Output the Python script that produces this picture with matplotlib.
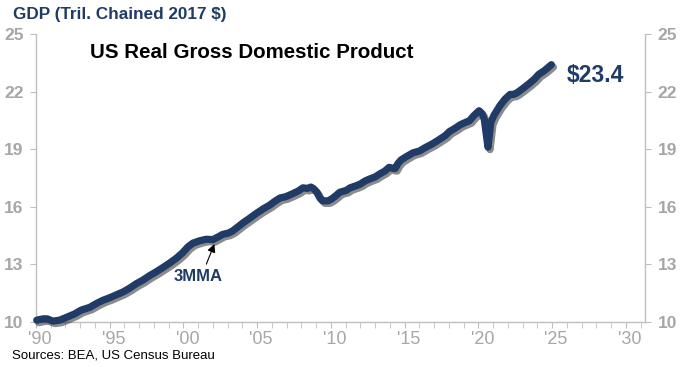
import matplotlib
matplotlib.use("Agg")
import matplotlib.pyplot as plt
import matplotlib.patheffects as pe
from matplotlib.transforms import ScaledTranslation
from matplotlib.ticker import MultipleLocator
from matplotlib import font_manager

plt.rcParams['font.family'] = ['Liberation Sans', 'DejaVu Sans']
installed = {f.name for f in font_manager.fontManager.ttflist}
narrow = 'Liberation Sans Narrow' if 'Liberation Sans Narrow' in installed else 'Liberation Sans'

# real GDP, trillions of chained 2017 dollars (3-month moving average)
years = [1990.05, 1990.5, 1990.75, 1991.15, 1991.6, 1992.05, 1992.6, 1993.05, 1993.65, 1994.1,
         1994.55, 1995.0, 1995.45, 1995.9, 1996.35, 1996.8, 1997.25, 1997.7, 1998.15, 1998.6,
         1999.05, 1999.5, 1999.95, 2000.3, 2000.65, 2001.1, 2001.55, 2002.0, 2002.35, 2002.65,
         2003.05, 2003.35, 2003.7, 2004.05, 2004.5, 2004.95, 2005.4, 2005.85, 2006.2, 2006.55,
         2006.95, 2007.45, 2007.8, 2008.1, 2008.4, 2008.65, 2008.85, 2009.05, 2009.25, 2009.45,
         2009.8, 2010.05, 2010.35, 2010.6, 2011.05, 2011.3, 2011.75, 2012.0, 2012.3, 2012.65,
         2013.0, 2013.3, 2013.65, 2013.95, 2014.2, 2014.35, 2014.55, 2014.75, 2015.1, 2015.55,
         2016.0, 2016.45, 2016.9, 2017.35, 2017.75, 2018.05, 2018.45, 2018.75, 2019.0, 2019.4,
         2019.7, 2020.05, 2020.25, 2020.4, 2020.65, 2020.85, 2021.05, 2021.45, 2021.8, 2022.15,
         2022.4, 2022.65, 2023.0, 2023.45, 2023.8, 2024.1, 2024.4, 2024.65, 2024.95]
gdp = [10.08, 10.15, 10.15, 10.03, 10.08, 10.22, 10.40, 10.60, 10.75, 10.95,
       11.12, 11.25, 11.40, 11.55, 11.75, 11.98, 12.17, 12.40, 12.60, 12.82,
       13.05, 13.30, 13.60, 13.90, 14.10, 14.22, 14.30, 14.28, 14.42, 14.55,
       14.62, 14.74, 14.95, 15.16, 15.40, 15.65, 15.88, 16.08, 16.28, 16.45,
       16.52, 16.69, 16.82, 16.98, 16.95, 17.02, 16.92, 16.75, 16.45, 16.30,
       16.30, 16.40, 16.58, 16.75, 16.85, 16.98, 17.10, 17.18, 17.33, 17.45,
       17.55, 17.70, 17.85, 18.05, 18.00, 17.98, 18.25, 18.43, 18.60, 18.80,
       18.90, 19.10, 19.28, 19.50, 19.70, 19.92, 20.10, 20.26, 20.35, 20.48,
       20.75, 21.00, 20.85, 20.55, 19.10, 20.40, 20.75, 21.25, 21.60, 21.85,
       21.85, 21.95, 22.15, 22.42, 22.65, 22.90, 23.05, 23.20, 23.40]

y_ticks = [10, 13, 16, 19, 22, 25]
x_ticks = [1990, 1995, 2000, 2005, 2010, 2015, 2020, 2025, 2030]
x_labels = ["'90", "'95", "'00", "'05", "'10", "'15", "'20", "'25", "'30"]

navy = '#1F3B66'
grey = '#A6A6A6'
spine_grey = '#BFBFBF'

fig = plt.figure(figsize=(6.81, 3.67), dpi=100)
ax = fig.add_axes([36/681, 1-321.7/367, (645-36)/681, (321.7-34)/367])

ax.plot(years, gdp, color=navy, lw=5.2, solid_capstyle='round', solid_joinstyle='round',
        clip_on=False, zorder=5,
        path_effects=[pe.SimpleLineShadow(offset=(1.5, -1.8), shadow_color='black', alpha=0.45),
                      pe.Normal()])

ax.set_xlim(1990, 2031.3)
ax.set_ylim(10, 25)
ax.set_yticks(y_ticks)
ax.set_xticks(x_ticks)
ax.set_xticklabels(x_labels, family=[narrow, 'DejaVu Sans'])
ax.xaxis.set_minor_locator(MultipleLocator(1))

ax.spines['top'].set_visible(False)
for s in ['left', 'right', 'bottom']:
    ax.spines[s].set_color(spine_grey)
    ax.spines[s].set_linewidth(1)

ax.tick_params(axis='y', which='both', direction='out', length=4, color=spine_grey,
               labelcolor=grey, labelsize=12.5, left=True, right=True,
               labelleft=True, labelright=True, pad=5)
ax.tick_params(axis='x', which='both', direction='out', length=4, color=spine_grey,
               labelcolor=grey, labelsize=13, pad=3)
for lab in ax.get_yticklabels():
    lab.set_fontweight('bold')
for lab in ax.get_xticklabels():
    lab.set_transform(lab.get_transform() + ScaledTranslation(4/100, 0, fig.dpi_scale_trans))

# annotations
ax.text(2001.0, 12.35, '3MMA', color=navy, fontsize=12, fontweight='bold',
        ha='center', va='center')
ax.annotate('', xy=(2002.1, 14.05), xytext=(2001.55, 13.0),
            arrowprops=dict(arrowstyle='-|>', color='black', lw=0.8,
                            mutation_scale=12, shrinkA=0, shrinkB=0), zorder=6)

fig.text(13/681, 1-14/367, 'GDP (Tril. Chained 2017 $)', color=navy, fontsize=12.3,
         fontweight='bold', va='center', ha='left')
fig.text(90/681, 1-53/367, 'US Real Gross Domestic Product', color='black', fontsize=14.8,
         fontweight='bold', va='center', ha='left')
fig.text(567/681, 1-76/367, '$23.4', color=navy, fontsize=16.5, fontweight='bold',
         va='center', ha='left')
fig.text(12/681, 1-356/367, 'Sources: BEA, US Census Bureau', color='black', fontsize=9.5,
         family=[narrow, 'DejaVu Sans'], va='center', ha='left')

fig.savefig('out.png', dpi=100)
